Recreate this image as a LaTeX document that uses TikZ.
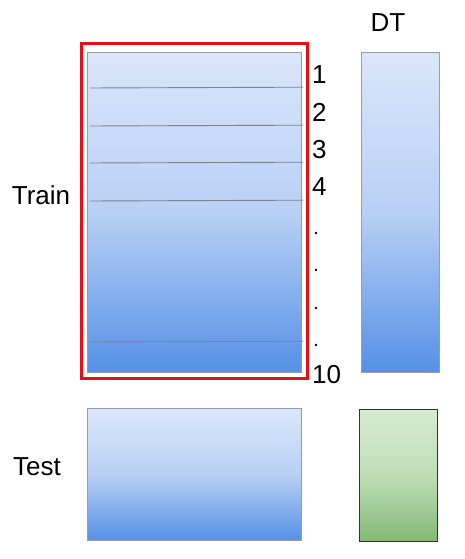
\documentclass[tikz,border=0pt]{standalone}
\usepackage{fontspec}
\setmainfont{Liberation Sans}
\definecolor{R}{RGB}{230,16,24}
\definecolor{Btop}{RGB}{218,230,250}
\definecolor{Bmid}{RGB}{184,208,245}
\definecolor{Bbot}{RGB}{86,144,230}
\definecolor{Gtop}{RGB}{214,234,208}
\definecolor{Gmid}{RGB}{190,222,182}
\definecolor{Gbot}{RGB}{132,184,120}
\definecolor{Edge}{RGB}{150,156,168}
\definecolor{Cut}{RGB}{124,130,142}
\def\Wide{214}
\def\Narrow{78}
\def\Tall{320}
\def\Short{132}

\begin{document}
\begin{tikzpicture}[x=1pt,y=1pt]
    \path[use as bounding box] (0,0) rectangle (464,559);
    \tikzset{
        blockblue/.style={draw=Edge,line width=0.8pt,top color=Btop,bottom color=Bbot,middle color=Bmid,anchor=north west,inner sep=0pt},
        blockgreen/.style={draw=black!80,line width=0.8pt,top color=Gtop,bottom color=Gbot,middle color=Gmid,anchor=north west,inner sep=0pt},
        word/.style={font=\fontsize{26}{30}\selectfont,inner sep=0pt},
        fold/.style={font=\fontsize{26}{30}\selectfont,inner sep=0pt,anchor=west}
    }
    % boxes
    \node[blockblue,minimum width=\Wide pt,minimum height=\Tall pt] (train) at (87,507) {};
    \node[blockblue,minimum width=\Narrow pt,minimum height=\Tall pt] (dt) at (361,507) {};
    \node[blockblue,minimum width=\Wide pt,minimum height=\Short pt] (test) at (87,151) {};
    \node[blockgreen,minimum width=\Narrow pt,minimum height=\Short pt] (pred) at (359,150) {};
    % fold lines
    \foreach \Y in {471,433,396,358,217} {
        \coordinate (L\Y) at (90,\Y);
        \coordinate (R\Y) at (303,\Y+0.8);
        \draw[Cut,line width=0.9pt] (L\Y) -- (R\Y);
    }
    % red frame
    \coordinate (FrameA) at (81.5,515.5);
    \coordinate (FrameB) at (307,180);
    \draw[R,line width=3pt] (FrameA) rectangle (FrameB);
    % labels
    \node[word] (trainlabel) at (41,364) {Train};
    \node[word] (testlabel) at (37,92) {Test};
    \node[word] (dtlabel) at (388,536) {DT};
    \foreach \N/\Y in {1/484,2/447,3/409,4/372} {
        \node[fold] (F\N) at (312,\Y) {\N};
    }
    \foreach \Y in {326,289,251,214} {
        \fill (316,\Y) circle (1.4pt);
    }
    \node[fold] (F10) at (312,184) {10};
\end{tikzpicture}
\end{document}
